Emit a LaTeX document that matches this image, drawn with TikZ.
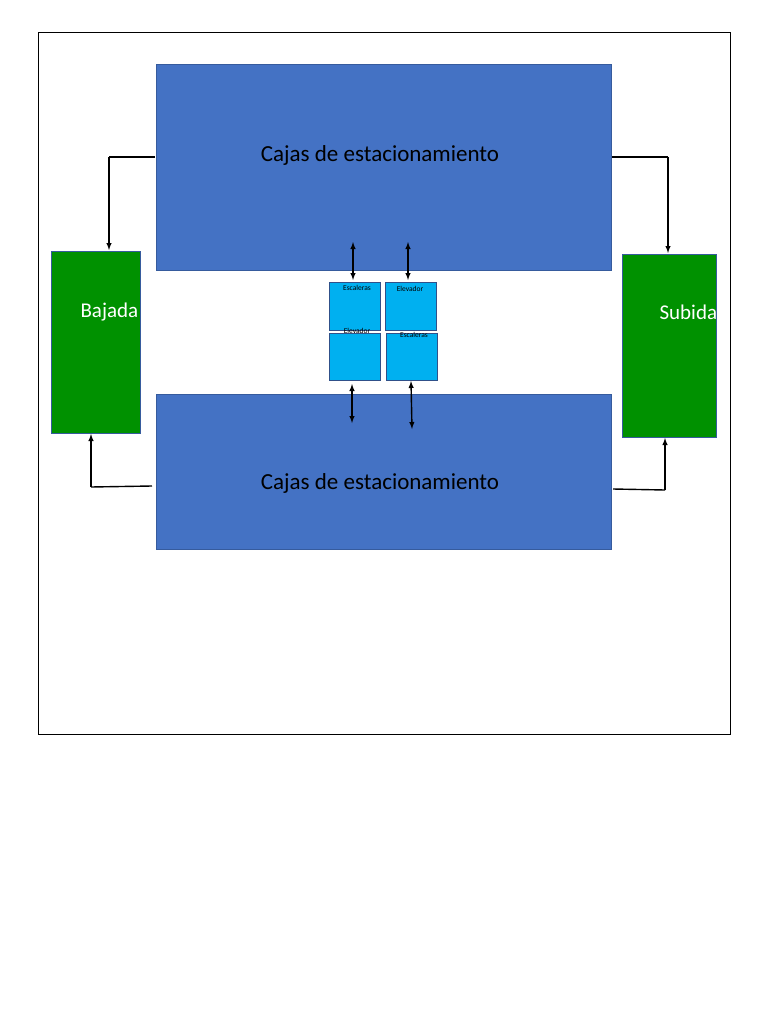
\documentclass[tikz,border=0pt]{standalone}
\usepackage{fontspec}
\setmainfont{Carlito}
\definecolor{cblue}{HTML}{4472C4}
\definecolor{cgreen}{HTML}{009100}
\definecolor{ccyan}{HTML}{00B0F0}
\begin{document}
\begin{tikzpicture}[x=1pt,y=-1pt,
 bigbox/.style={fill=cblue,draw=cblue!80!black,line width=0.6pt},
 gbox/.style={fill=cgreen,draw=cblue!80!black,line width=0.6pt},
 sbox/.style={fill=ccyan,draw=cblue!70!black,line width=0.8pt},
 conn/.style={line width=1.4pt,-latex},
 dconn/.style={line width=1.4pt,latex-latex}]
\useasboundingbox (0,0) rectangle (768,1024);
\fill[white] (0,0) rectangle (768,1024);
\draw[line width=1pt] (38,33) rectangle (730,734);
\draw[bigbox] (156,64) rectangle (611,270);
\draw[bigbox] (156,394) rectangle (611,549);
\node[text=black,font=\fontsize{23}{27}\selectfont] (t1) at (380,155) {Cajas de estacionamiento};
\node[text=black,font=\fontsize{23}{27}\selectfont] (t2) at (380,483) {Cajas de estacionamiento};
\draw[gbox] (51,251) rectangle (140,433);
\draw[gbox] (622,254) rectangle (716,437);
\begin{scope}
\clip (51,251) rectangle (140,433);
\node[anchor=west,text=white,font=\fontsize{21}{25}\selectfont] (bj) at (77,312) {Bajada};
\end{scope}
\begin{scope}
\clip (622,254) rectangle (730,437);
\node[anchor=west,text=white,font=\fontsize{21}{25}\selectfont] (sb) at (656,312) {Subida};
\end{scope}
\draw[sbox] (329,282) rectangle (380,330);
\draw[sbox] (385,282) rectangle (436,330);
\draw[sbox] (329,333) rectangle (380,380);
\draw[sbox] (386,333) rectangle (437,380);
\node[font=\fontsize{7.5}{9}\selectfont] (e1) at (357,288) {Escaleras};
\node[font=\fontsize{7.5}{9}\selectfont] (e2) at (410,289) {Elevador};
\node[font=\fontsize{7.5}{9}\selectfont] (e3) at (357,331) {Elevador};
\node[font=\fontsize{7.5}{9}\selectfont] (e4) at (414,335) {Escaleras};
\coordinate (a1) at (155,157); \coordinate (a2) at (109,157); \coordinate (a3) at (109,250);
\draw[line width=1.4pt] (a1) -- (a2); \draw[conn] (a2) -- (a3);
\coordinate (b1) at (612,157); \coordinate (b2) at (668,157); \coordinate (b3) at (668,253);
\draw[line width=1.4pt] (b1) -- (b2); \draw[conn] (b2) -- (b3);
\coordinate (c1) at (152,486); \coordinate (c2) at (91,487); \coordinate (c3) at (91,434);
\draw[line width=1.4pt] (c1) -- (c2); \draw[conn] (c2) -- (c3);
\coordinate (d1) at (613,489); \coordinate (d2) at (665,490); \coordinate (d3) at (665,438);
\draw[line width=1.4pt] (d1) -- (d2); \draw[conn] (d2) -- (d3);
\draw[dconn] (353,242) -- (353,280);
\draw[dconn] (408,242) -- (408,280);
\draw[dconn] (352,384) -- (352,423);
\draw[dconn] (411,381) -- (412,429);
\end{tikzpicture}
\end{document}
